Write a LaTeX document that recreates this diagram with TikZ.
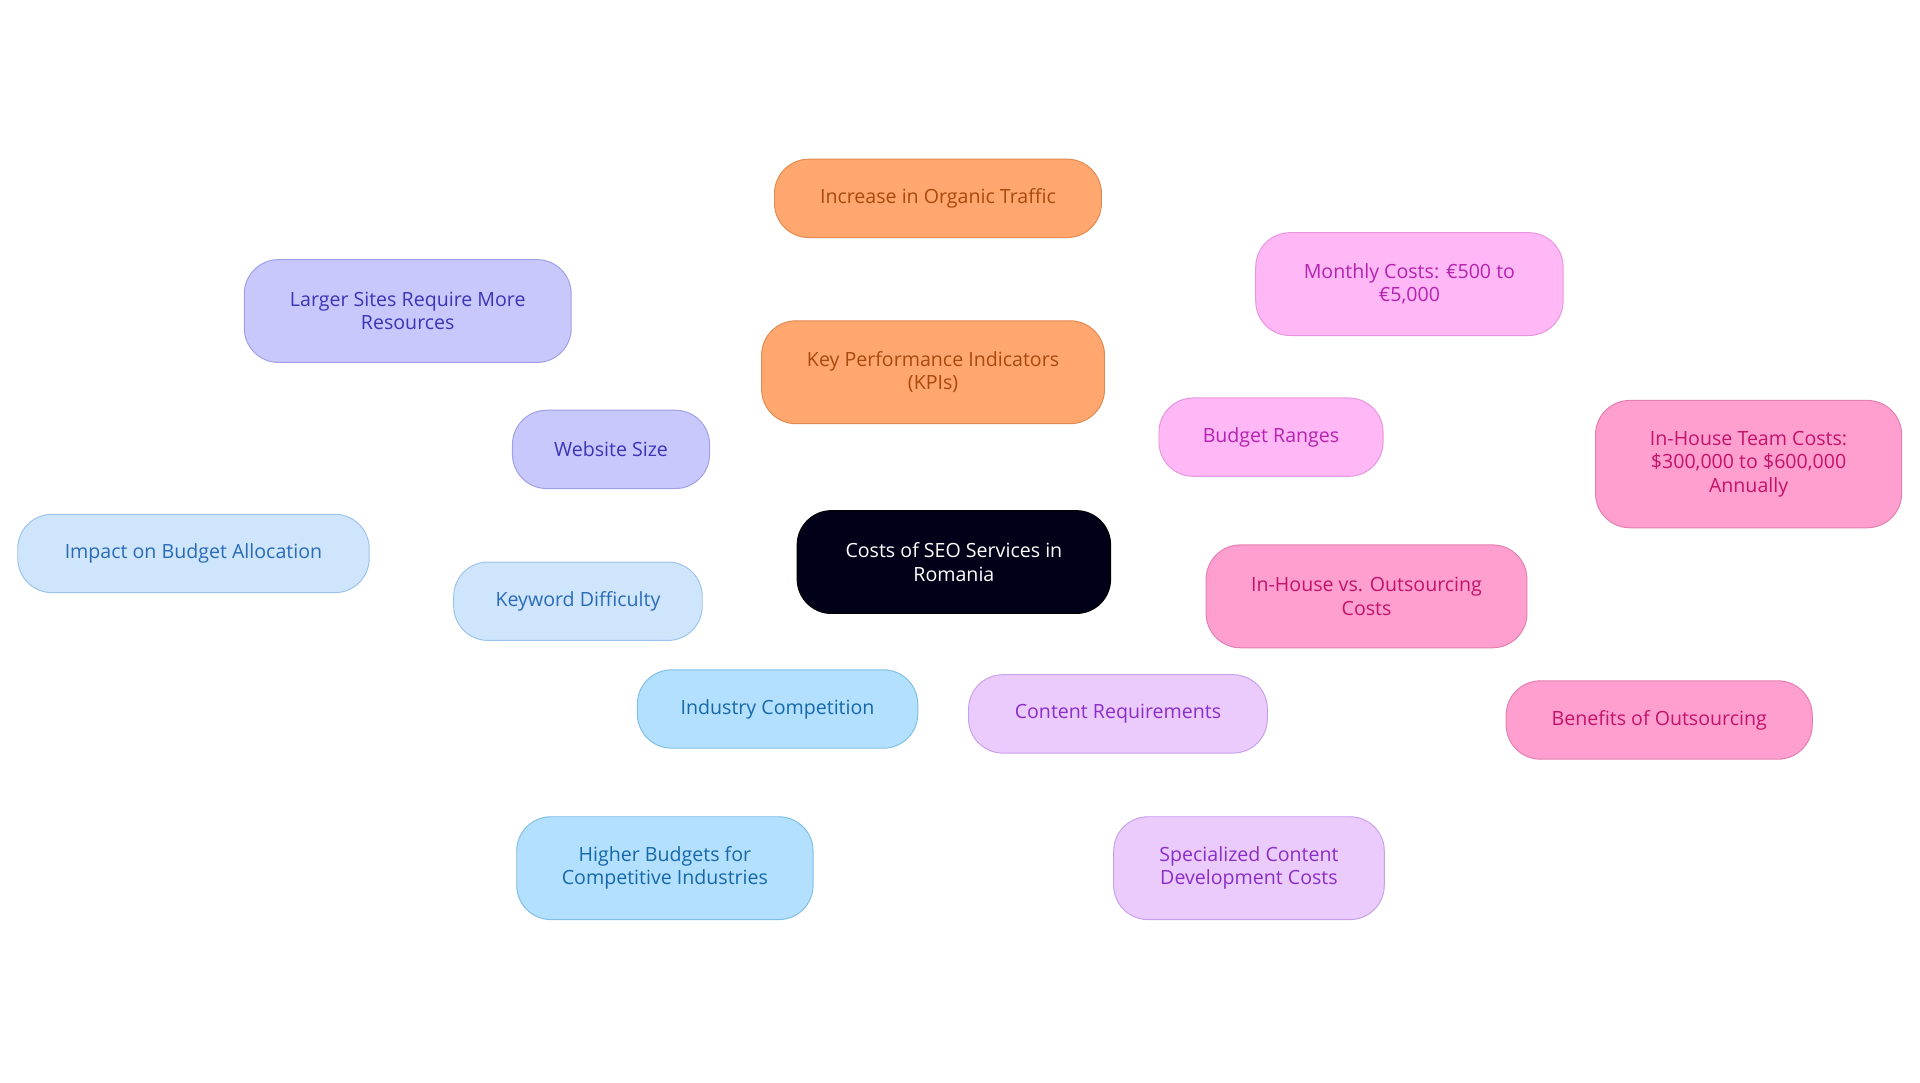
\documentclass[tikz,border=0pt]{standalone}
\usepackage{fontspec}
\setmainfont{Open Sans}
\begin{document}
\begin{tikzpicture}[x=1pt,y=-1pt,
 box/.style={rounded corners=28pt,draw,line width=0.8pt,align=center,inner sep=0pt,font=\fontsize{16}{19}\selectfont},
 ln/.style={line width=2.2pt}]
\useasboundingbox (0,0) rectangle (1568,884);
\definecolor{oF}{HTML}{FFA76E}\definecolor{oD}{HTML}{E08A50}\definecolor{oT}{HTML}{A84A0E}
\definecolor{mF}{HTML}{FFB8F5}\definecolor{mD}{HTML}{E895E0}\definecolor{mT}{HTML}{B523B0}
\definecolor{pF}{HTML}{FF9FCF}\definecolor{pD}{HTML}{E37FB0}\definecolor{pT}{HTML}{C4136A}
\definecolor{vF}{HTML}{EBCBFC}\definecolor{vD}{HTML}{C8A0EC}\definecolor{vT}{HTML}{8A2EC8}
\definecolor{cF}{HTML}{B3E0FF}\definecolor{cD}{HTML}{80BEE6}\definecolor{cT}{HTML}{1668A8}
\definecolor{kF}{HTML}{CFE5FC}\definecolor{kD}{HTML}{9CC3EC}\definecolor{kT}{HTML}{2A6BB8}
\definecolor{wF}{HTML}{C8C8FC}\definecolor{wD}{HTML}{A0A0E8}\definecolor{wT}{HTML}{3C35B5}
\tikzset{o/.style={box,fill=oF,draw=oD,text=oT},m/.style={box,fill=mF,draw=mD,text=mT},
p/.style={box,fill=pF,draw=pD,text=pT},v/.style={box,fill=vF,draw=vD,text=vT},
c/.style={box,fill=cF,draw=cD,text=cT},k/.style={box,fill=kF,draw=kD,text=kT},
w/.style={box,fill=wF,draw=wD,text=wT}}
\node[box,fill=black!90!blue,draw=black,text=white,minimum width=256pt,minimum height=84pt] (root) at (779,459) {Costs of SEO Services in\\Romania};
\node[o,minimum width=280pt,minimum height=84pt] (kpi) at (762,304) {Key Performance Indicators\\(KPIs)};
\node[o,minimum width=267pt,minimum height=64pt] (org) at (766,162) {Increase in Organic Traffic};
\node[m,minimum width=183pt,minimum height=64pt] (bud) at (1038,357) {Budget Ranges};
\node[m,minimum width=251pt,minimum height=84pt] (mon) at (1151,232) {Monthly Costs: €500 to\\€5,000};
\node[p,minimum width=262pt,minimum height=84pt] (inh) at (1116,487) {In-House vs. Outsourcing\\Costs};
\node[p,minimum width=250pt,minimum height=104pt] (team) at (1428,379) {In-House Team Costs:\\\$300,000 to \$600,000\\Annually};
\node[p,minimum width=250pt,minimum height=64pt] (ben) at (1355,588) {Benefits of Outsourcing};
\node[v,minimum width=244pt,minimum height=64pt] (con) at (913,583) {Content Requirements};
\node[v,minimum width=221pt,minimum height=84pt] (spec) at (1020,709) {Specialized Content\\Development Costs};
\node[c,minimum width=229pt,minimum height=64pt] (ind) at (635,579) {Industry Competition};
\node[c,minimum width=242pt,minimum height=84pt] (hig) at (543,709) {Higher Budgets for\\Competitive Industries};
\node[k,minimum width=203pt,minimum height=64pt] (kw) at (472,491) {Keyword Difficulty};
\node[k,minimum width=287pt,minimum height=64pt] (imp) at (158,452) {Impact on Budget Allocation};
\node[w,minimum width=161pt,minimum height=64pt] (ws) at (499,367) {Website Size};
\node[w,minimum width=267pt,minimum height=84pt] (lar) at (333,254) {Larger Sites Require More\\Resources};
\begin{scope}[on background layer/.style={}]
\end{scope}
\pgfsetlayers{main}
\begin{pgfonlayer}{main}\end{pgfonlayer}
\end{tikzpicture}
\end{document}
